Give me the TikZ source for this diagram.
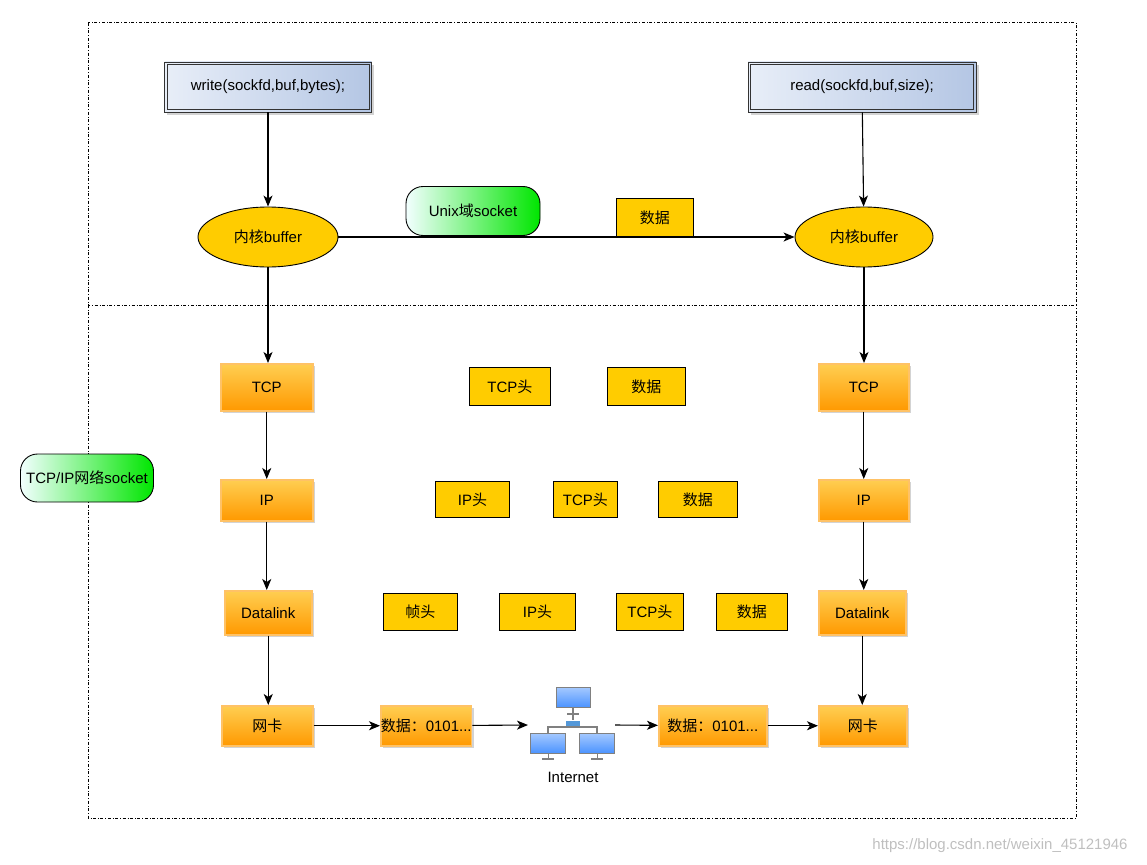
\documentclass[tikz,border=0pt]{standalone}
\usepackage{fontspec}
\setmainfont{Liberation Sans}
\newfontfamily\cjk{Noto Sans CJK SC}
\usetikzlibrary{shadows,arrows.meta,shapes.geometric}
\definecolor{gold}{HTML}{FFCC00}
\definecolor{bl}{HTML}{E8EEF8}
\definecolor{br}{HTML}{B4C6E4}
\definecolor{otop}{HTML}{FFC266}
\definecolor{obot}{HTML}{FF9900}
\begin{document}
\begin{tikzpicture}[x=1pt,y=-1pt,
  every node/.style={font=\fontsize{15}{17}\selectfont},
  arr/.style={-{Stealth[length=11pt,width=9pt,inset=3pt]},line width=1.1pt},
  frame/.style={dash dot,line width=1pt},
  blue/.style={draw=black!80,line width=0.9pt,left color=bl,right color=br,drop shadow={opacity=0.35}},
  inner/.style={draw=black!80,line width=0.8pt},
  ylw/.style={draw,fill=gold,line width=0.9pt,anchor=north west,inner sep=0pt},
  org/.style={draw=otop,line width=1.5pt,top color=otop!80!yellow,bottom color=obot,drop shadow={opacity=0.35},anchor=north west,inner sep=0pt},
  pill/.style={rounded corners=17pt,draw,line width=0.9pt,left color=cyan!5,right color=green!90!black},
  mon/.style={draw=gray,line width=0.8pt,top color=cyan!40!blue!35,bottom color=blue!60!cyan!70}]
\useasboundingbox (0,0) rectangle (1147,864);
\draw[frame] (88,23) rectangle (1076,305);
\draw[frame] (88,305) -- (88,818) -- (1076,818) -- (1076,305);
% top
\node[blue,minimum width=207pt,minimum height=50pt] (w) at (268,87) {write(sockfd,buf,bytes);};
\node[blue,minimum width=228pt,minimum height=50pt] (r) at (862,87) {read(sockfd,buf,size);};
\draw[inner] ([shift={(3pt,-3pt)}]w.north west) rectangle ([shift={(-3pt,3pt)}]w.south east);
\draw[inner] ([shift={(3pt,-3pt)}]r.north west) rectangle ([shift={(-3pt,3pt)}]r.south east);
\node[ellipse,draw,fill=gold,line width=0.9pt,minimum width=140pt,minimum height=60pt] (kl) at (268,237) {{\cjk 内核}buffer};
\node[ellipse,draw,fill=gold,line width=0.9pt,minimum width=138pt,minimum height=60pt] (kr) at (864,237) {{\cjk 内核}buffer};
\node[pill,minimum width=134pt,minimum height=49pt] (ux) at (473,211) {Unix{\cjk 域}socket};
\node[ylw,minimum width=77pt,minimum height=38pt] (d0) at (616,198) {\cjk 数据};
\draw[arr] (kl) -- (kr);
\draw[arr] (w) -- (kl);
\draw[arr] (r) -- (kr);
% columns
\node[org,minimum width=92pt,minimum height=47pt] (t1) at (220,363) {TCP};
\node[org,minimum width=90pt,minimum height=47pt] (t2) at (818,363) {TCP};
\node[org,minimum width=92pt,minimum height=41pt] (i1) at (220,479) {IP};
\node[org,minimum width=90pt,minimum height=41pt] (i2) at (818,479) {IP};
\node[org,minimum width=87pt,minimum height=44pt] (l1) at (224,590) {Datalink};
\node[org,minimum width=87pt,minimum height=44pt] (l2) at (818,590) {Datalink};
\node[org,minimum width=91pt,minimum height=40pt] (n1) at (221,705) {\cjk 网卡};
\node[org,minimum width=88pt,minimum height=40pt] (n2) at (818,705) {\cjk 网卡};
\node[org,minimum width=90pt,minimum height=40pt] (p1) at (380,705) {{\cjk 数据：}0101...};
\node[org,minimum width=108pt,minimum height=40pt] (p2) at (658,705) {{\cjk 数据：}0101...};
\draw[arr] (kl) -- (kl|-t1.north);
\draw[arr] (kr) -- (kr|-t2.north);
\draw[arr] (t1) -- (t1|-i1.north);
\draw[arr] (t2) -- (t2|-i2.north);
\draw[arr] (i1) -- (l1.north-|i1);
\draw[arr] (i2) -- (l2.north-|i2);
\draw[arr] (l1) -- (n1.north-|l1);
\draw[arr] (l2) -- (n2.north-|l2);
% middle headers
\node[ylw,minimum width=81pt,minimum height=38pt] at (469,367) {TCP{\cjk 头}};
\node[ylw,minimum width=78pt,minimum height=38pt] at (607,367) {\cjk 数据};
\node[ylw,minimum width=74pt,minimum height=36pt] at (435,481) {IP{\cjk 头}};
\node[ylw,minimum width=64pt,minimum height=36pt] at (553,481) {TCP{\cjk 头}};
\node[ylw,minimum width=79pt,minimum height=36pt] at (658,481) {\cjk 数据};
\node[ylw,minimum width=74pt,minimum height=37pt] at (383,593) {\cjk 帧头};
\node[ylw,minimum width=76pt,minimum height=37pt] at (499,593) {IP{\cjk 头}};
\node[ylw,minimum width=67pt,minimum height=37pt] at (616,593) {TCP{\cjk 头}};
\node[ylw,minimum width=71pt,minimum height=37pt] at (716,593) {\cjk 数据};
% internet icon
\coordinate (nin) at (528,725);
\coordinate (nout) at (615,725);
\draw[gray,line width=1.2pt] (573,708) -- (573,720) (548,733) -- (548,727) -- (597,727) -- (597,733);
\fill[cyan!60!blue!70] (566,721) rectangle (580,726);
\node[mon,minimum width=34pt,minimum height=20pt,inner sep=0pt] (m1) at (573,697) {};
\node[mon,minimum width=35pt,minimum height=20pt,inner sep=0pt] (m2) at (548,743) {};
\node[mon,minimum width=35pt,minimum height=20pt,inner sep=0pt] (m3) at (597,743) {};
\draw[gray,line width=1.5pt] (567,714)--(579,714) (542,759)--(554,759) (591,759)--(603,759);
\draw[gray,line width=1pt] (573,708)--(573,714) (548,754)--(548,759) (597,754)--(597,759);
\node (inet) at (573,777) {Internet};
\draw[arr] (n1) -- (p1);
\draw[arr] (p1) -- (nin);
\draw[arr] (nout) -- (p2);
\draw[arr] (p2) -- (n2);
% side pill
\node[pill,minimum width=133pt,minimum height=48pt] (tp) at (87,478) {TCP/IP{\cjk 网络}socket};
\node[gray!50] at (1000,846) {https://blog.csdn.net/weixin\_45121946};
\end{tikzpicture}
\end{document}
